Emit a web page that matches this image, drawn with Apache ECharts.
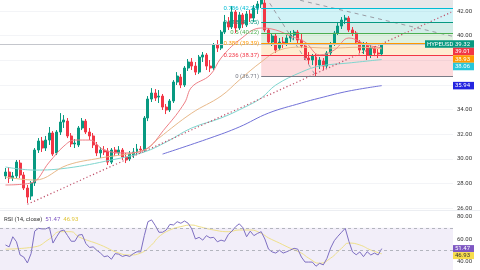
<!DOCTYPE html>
<html>
<head>
<meta charset="utf-8">
<script src="https://cdn.jsdelivr.net/npm/echarts@6/dist/echarts.min.js"></script>
<style>
html, body { margin: 0; padding: 0; background: #fff; }
#chart { width: 480px; height: 270px; }
</style>
</head>
<body>
<div id="chart"></div>
<script>
// bars: [open, close, low, high]
const candles = [
  [28.60,28.92,28.35,29.25],[28.92,28.43,28.03,29.33],[28.43,28.60,28.19,28.92],[28.60,29.73,28.43,29.90],
  [29.65,28.68,28.43,29.90],[28.68,27.62,27.46,28.92],[27.62,26.89,26.40,27.87],[26.97,28.03,26.65,28.19],
  [28.03,30.71,27.79,30.87],[30.71,31.44,30.47,31.68],[31.44,30.87,30.55,31.77],[30.87,31.52,30.63,31.85],
  [31.52,32.09,31.12,32.58],[32.09,30.38,30.22,32.25],[30.47,32.17,30.30,32.33],[32.17,32.98,31.93,33.71],
  [32.98,33.15,32.50,33.55],[33.06,31.85,31.68,33.31],[31.85,31.20,30.95,32.09],[31.20,31.28,30.87,31.60],
  [31.12,32.50,30.95,32.66],[32.50,33.06,32.33,33.31],[33.06,32.17,32.01,33.23],[32.17,31.85,31.52,32.50],
  [31.85,31.12,30.87,32.09],[31.12,30.47,30.22,31.36],[30.47,30.71,30.06,30.95],[30.71,30.55,30.30,31.03],
  [30.63,29.73,29.49,30.87],[29.73,30.71,29.57,30.87],[30.71,30.47,30.22,30.95],[30.47,30.71,30.30,31.03],
  [30.71,30.14,29.90,30.87],[30.14,29.90,29.65,30.47],[29.98,30.38,29.81,30.63],[30.30,30.55,30.06,30.87],
  [30.55,30.79,30.30,31.20],[30.79,30.71,30.47,31.03],[30.71,33.31,30.55,33.47],[33.31,34.85,33.06,35.09],
  [34.85,35.34,34.61,35.74],[35.34,34.93,34.69,35.66],[35.01,35.09,34.53,35.58],[35.09,34.20,33.96,35.26],
  [34.20,33.96,33.63,34.45],[33.96,34.69,33.80,34.85],[34.69,36.23,34.53,36.39],[36.23,36.72,35.99,37.04],
  [36.64,35.99,35.74,36.88],[35.99,37.37,35.83,37.53],[37.37,37.86,37.13,38.10],[37.86,37.53,37.21,38.18],
  [37.53,37.04,36.80,37.86],[37.04,38.26,36.88,38.43],[38.26,38.43,37.86,38.67],[38.43,37.53,37.21,38.59],
  [37.53,37.37,37.04,38.02],[37.37,39.24,37.21,39.40],[39.24,38.99,38.67,39.64],[38.99,40.29,38.83,40.46],
  [40.29,41.11,40.13,41.68],[41.11,40.70,40.46,41.51],[40.70,41.92,40.54,42.41],[41.92,40.62,40.21,42.08],
  [40.62,41.68,40.46,41.92],[41.68,40.94,40.62,41.84],[40.86,41.76,40.70,42.00],[41.76,41.43,41.11,42.08],
  [41.43,42.24,41.11,42.49],[42.24,42.57,41.76,42.81],[42.57,43.05,42.24,43.73],[42.65,40.46,40.29,43.10],
  [40.46,39.48,39.24,40.62],[39.48,39.97,39.16,40.21],[39.97,38.83,38.59,40.21],[38.99,39.48,38.83,39.81],
  [39.48,39.32,38.99,39.89],[39.32,39.81,39.16,40.05],[39.81,40.05,39.48,40.38],[40.05,40.29,39.64,40.46],
  [40.29,39.64,39.32,40.46],[39.64,39.16,38.99,40.21],[39.16,38.18,38.02,39.40],[38.18,38.02,37.69,38.67],
  [38.02,38.34,37.61,38.51],[38.26,37.61,36.71,38.51],[37.61,38.02,37.29,38.26],[37.94,37.53,37.21,38.18],
  [37.53,38.59,37.37,38.75],[38.59,39.32,38.43,39.48],[39.32,40.21,39.16,40.38],[40.21,40.78,40.05,41.11],
  [40.78,41.27,40.54,41.51],[41.27,41.43,40.94,41.68],[41.43,40.46,40.29,41.59],[40.46,40.21,39.97,40.70],
  [40.21,39.48,39.32,40.38],[39.48,38.83,38.59,39.64],[38.83,39.32,38.51,39.48],[39.32,38.43,38.02,39.48],
  [38.43,38.99,38.18,39.24],[38.99,38.59,38.34,39.16],[38.59,38.51,38.18,38.91],[38.51,39.32,38.34,39.40]
];

// moving averages, [bar, price]
const maFast = [[1,27.87],[8,28.03],[13,29.73],[17,31.03],[20,31.52],[24,31.52],[28,30.71],[34,30.47],[39,30.71],
  [45,32.58],[50,34.53],[52,35.83],[57,36.80],[60,38.18],[65,39.64],[71,40.62],[75,40.46],[79,39.97],[83,39.48],
  [87,38.43],[91,38.83],[95,39.81],[100,39.24],[104,39.01]];
const maMid = [[1,28.52],[9,28.27],[18,29.49],[27,30.06],[39,30.71],[43,31.68],[52,33.71],[60,35.09],[65,36.39],
  [71,37.86],[76,38.83],[82,39.06],[90,38.99],[98,39.06],[104,38.93]];
const maSlow = [[1,29.33],[9,29.08],[18,29.25],[30,29.90],[39,30.55],[45,31.36],[52,32.50],[60,33.31],[66,34.12],
  [71,34.93],[75,35.99],[82,37.04],[87,37.53],[95,37.78],[104,38.06]];
const maLong = [[44,30.38],[57,31.68],[65,32.58],[73,33.71],[82,34.53],[87,34.93],[95,35.50],[104,35.94]];

// drawings
const trendUp = [[7,26.30],[123,41.90]];
const trendDown = [[71,43.62],[123.5,39.94]];
const fibAnchors = [[71,43.73],[86,36.71]];
const fibRatios = [1, 0.786, 0.618, 0.5, 0.382, 0.236, 0];
const fibPrices = [43.73, 42.23, 41.05, 40.22, 39.39, 38.37, 36.71];

// RSI (14) per bar, and its moving average
const rsi = [54.7,53,62,57.6,45.8,44,38.7,47,67,69.5,69,69,70.5,56.4,62,67,68,63,58,58,
  63.5,64,56,52.5,53,50,47.5,44.3,45,42,47,46.5,44.5,45.5,44.5,47,48.7,48.5,63,75.4,
  77,72,66,66,68,73,72.5,75.4,74,76,74,69,60,61.5,59,63,61,61.5,57.5,59,
  58,64,67,71,73.5,70,62,67,63,65,66.5,60,51,48.5,47.5,50,47.5,48.7,50.2,51.7,
  51,44,39.5,39.5,39.5,35.8,38.4,37,42.8,52,58.5,62.5,66,69.5,58,48.5,46,48.5,44.3,48.7,
  45.8,47.5,45.8,51.47];
const rsiMa = [[1,51],[9,53],[13,60],[16,66.5],[19,66.5],[21,62],[27,54.7],[32,47.5],[35,45.8],[38,47.5],
  [41,54.7],[43,62],[46,68],[49,71],[52,72.4],[54,71],[58,68],[62,66.5],[65,68],[68,68],[71,65],[73,61],
  [76,56.4],[79,51.7],[82,47.5],[84,43],[87,38.4],[90,43],[93,51.7],[95,56.4],[98,54.7],[101,50.2],[104,46.93]];

const SLOTS = 124;
const FIRST = 1;
const X_MAX = SLOTS - 0.5;
const GREEN = "#089981", RED = "#f23645";
const FONT = "Roboto";

const chart = echarts.init(document.getElementById("chart"));
const cats = Array.from({ length: SLOTS }, (_, i) => String(i));
const candleData = cats.map((_, i) => candles[i - FIRST] || "-");
const lastClose = candles[candles.length - 1][1];

const fibColors = ["#787b86", "#00bcd4", "#089981", "#4caf50", "#ff9800", "#f23645", "#787b86"];
const fibFills = ["rgba(120,123,134,0.18)", "rgba(0,188,212,0.18)", "rgba(8,153,129,0.18)",
  "rgba(76,175,80,0.18)", "rgba(255,152,0,0.18)", "rgba(242,54,69,0.18)"];
const fibStart = fibAnchors[0][0];

const lineSeries = (data, color, extra) => Object.assign({
  type: "line", xAxisIndex: 1, yAxisIndex: 0, data: data, showSymbol: false, symbol: "none",
  smooth: 0.4, silent: true, lineStyle: { color: color, width: 1 }, z: 4
}, extra || {});

chart.setOption({
  animation: false,
  backgroundColor: "#ffffff",
  grid: [
    { left: 0, right: 27, top: -13.6, height: 221.6, outerBoundsMode: "none", containLabel: false },
    { left: 0, right: 27, top: 194, height: 90, outerBoundsMode: "none", containLabel: false }
  ],
  xAxis: [
    { type: "category", gridIndex: 0, data: cats, show: false, boundaryGap: true },
    { type: "value", gridIndex: 0, min: -0.5, max: X_MAX, show: false },
    { type: "value", gridIndex: 1, min: -0.5, max: X_MAX, show: false }
  ],
  yAxis: [
    {
      type: "value", gridIndex: 0, position: "right", min: 26, max: 44, interval: 2,
      axisLine: { show: false }, axisTick: { show: false },
      splitLine: { lineStyle: { color: "#f3f4f7", width: 1 } },
      axisLabel: { color: "#333", fontSize: 6, fontFamily: FONT, margin: 4,
        formatter: v => v.toFixed(2) }
    },
    {
      type: "value", gridIndex: 1, position: "right", min: 20, max: 100, interval: 20,
      axisLine: { show: false }, axisTick: { show: false }, splitLine: { show: false },
      axisLabel: { color: "#333", fontSize: 6, fontFamily: FONT, margin: 4,
        formatter: v => (v > 20 && v < 100 ? v.toFixed(2) : "") }
    }
  ],
  series: [
    {
      // fibonacci retracement drawing
      type: "line", xAxisIndex: 1, yAxisIndex: 0, data: [], silent: true, z: 1,
      markArea: {
        silent: true,
        data: fibFills.map((c, i) => [
          { coord: [fibStart, fibPrices[i]], itemStyle: { color: c } },
          { coord: [X_MAX, fibPrices[i + 1]] }
        ])
      },
      markLine: {
        silent: true, symbol: "none",
        data: fibPrices.map((p, i) => [
          {
            coord: [fibStart, p],
            lineStyle: { color: fibColors[i], width: 1, type: "solid" },
            label: { show: true, position: "start", distance: 2, color: fibColors[i],
              fontSize: 6, fontFamily: FONT, formatter: fibRatios[i] + " (" + p.toFixed(2) + ")" }
          },
          { coord: [X_MAX, p] }
        ]).concat([[
          { yAxis: lastClose, x: 0, lineStyle: { color: "#c4c6cc", width: 1, type: "solid" }, label: { show: false } },
          { yAxis: lastClose, x: 453 }
        ]])
      }
    },
    {
      type: "candlestick", xAxisIndex: 0, yAxisIndex: 0, data: candleData, barWidth: "68%", z: 3,
      itemStyle: { color: GREEN, color0: RED, borderColor: GREEN, borderColor0: RED, borderWidth: 1 }
    },
    lineSeries(maLong, "#7272d8"),
    lineSeries(maSlow, "#7fd6cf"),
    lineSeries(maMid, "#e8b98a"),
    lineSeries(maFast, "#ee7f86"),
    lineSeries(trendUp, "#c0506a", { smooth: false, lineStyle: { color: "#c0506a", width: 1.2, type: [1.2, 2.4] } }),
    lineSeries(trendDown, "#9a9ca4", { smooth: false, lineStyle: { color: "#9a9ca4", width: 1, type: [4, 4] } }),
    lineSeries(fibAnchors, "#9a9ca4", { smooth: false, lineStyle: { color: "#9a9ca4", width: 1, type: [4, 4] } }),
    {
      type: "line", xAxisIndex: 2, yAxisIndex: 1, data: [], silent: true, z: 1,
      markArea: { silent: true, data: [[{ yAxis: 30, itemStyle: { color: "rgba(126,87,194,0.1)" } }, { yAxis: 70 }]] },
      markLine: {
        silent: true, symbol: "none", label: { show: false },
        lineStyle: { color: "#a3a6af", width: 0.8, type: [3, 3] },
        data: [{ yAxis: 70 }, { yAxis: 50 }, { yAxis: 30 }]
      }
    },
    {
      type: "line", xAxisIndex: 2, yAxisIndex: 1, data: rsiMa, smooth: 0.5, symbol: "none", silent: true,
      lineStyle: { color: "#efe08a", width: 1 }, z: 3
    },
    {
      type: "line", xAxisIndex: 2, yAxisIndex: 1, data: rsi.map((v, i) => [FIRST + i, v]), symbol: "none", silent: true,
      lineStyle: { color: "#7e6fc2", width: 1 }, z: 4
    }
  ]
});

// right-hand price badges, stacked so they do not overlap
function badges(items, yAxisIndex, h) {
  const out = [];
  items.map(it => Object.assign({}, it, { y: chart.convertToPixel({ yAxisIndex: yAxisIndex }, it.value) }))
    .sort((a, b) => a.y - b.y)
    .forEach((it, i, arr) => {
      if (i > 0) it.y = Math.max(it.y, arr[i - 1].y + h);
      if (it.name) {
        out.push({ type: "rect", shape: { x: 425, y: it.y - h / 2, width: 28, height: h }, style: { fill: it.color }, z: 100 });
        out.push({ type: "text", x: 427, y: it.y, style: { text: it.name, fill: "#fff", fontSize: 6, fontFamily: FONT, verticalAlign: "middle" }, z: 101 });
      }
      out.push({ type: "rect", shape: { x: 453, y: it.y - h / 2, width: 21, height: h }, style: { fill: it.color }, z: 100 });
      out.push({ type: "text", x: 455, y: it.y, style: { text: it.value.toFixed(2), fill: it.text || "#fff", fontSize: 6, fontFamily: FONT, verticalAlign: "middle" }, z: 101 });
    });
  return out;
}

const last = arr => arr[arr.length - 1][1];
const rsiLast = rsi[rsi.length - 1];
const rsiMaLast = last(rsiMa);

chart.setOption({
  graphic: badges([
    { name: "HYPEUSD", value: lastClose, color: GREEN },
    { value: last(maFast), color: "#f23645" },
    { value: last(maMid), color: "#ff9800" },
    { value: last(maSlow), color: "#26c6da" },
    { value: last(maLong), color: "#2424e0" }
  ], 0, 7.5).concat(badges([
    { value: rsiLast, color: "#7e57c2" },
    { value: rsiMaLast, color: "#f7dc4a", text: "#333" }
  ], 1, 7)).concat([
    { type: "line", shape: { x1: 0, y1: 210.5, x2: 480, y2: 210.5 }, style: { stroke: "#eceef2", lineWidth: 1 }, z: 50 },
    {
      type: "text", x: 4, y: 219, z: 60,
      style: {
        text: "{t|RSI (14, close)}  {a|" + rsiLast.toFixed(2) + "}  {b|" + rsiMaLast.toFixed(2) + "}",
        verticalAlign: "middle", fontFamily: FONT, fontSize: 6,
        rich: {
          t: { fill: "#333", fontSize: 6, fontFamily: FONT },
          a: { fill: "#7e57c2", fontSize: 6, fontFamily: FONT },
          b: { fill: "#e0c53a", fontSize: 6, fontFamily: FONT }
        }
      }
    }
  ])
});

window.onresize = () => chart.resize();
</script>
</body>
</html>
